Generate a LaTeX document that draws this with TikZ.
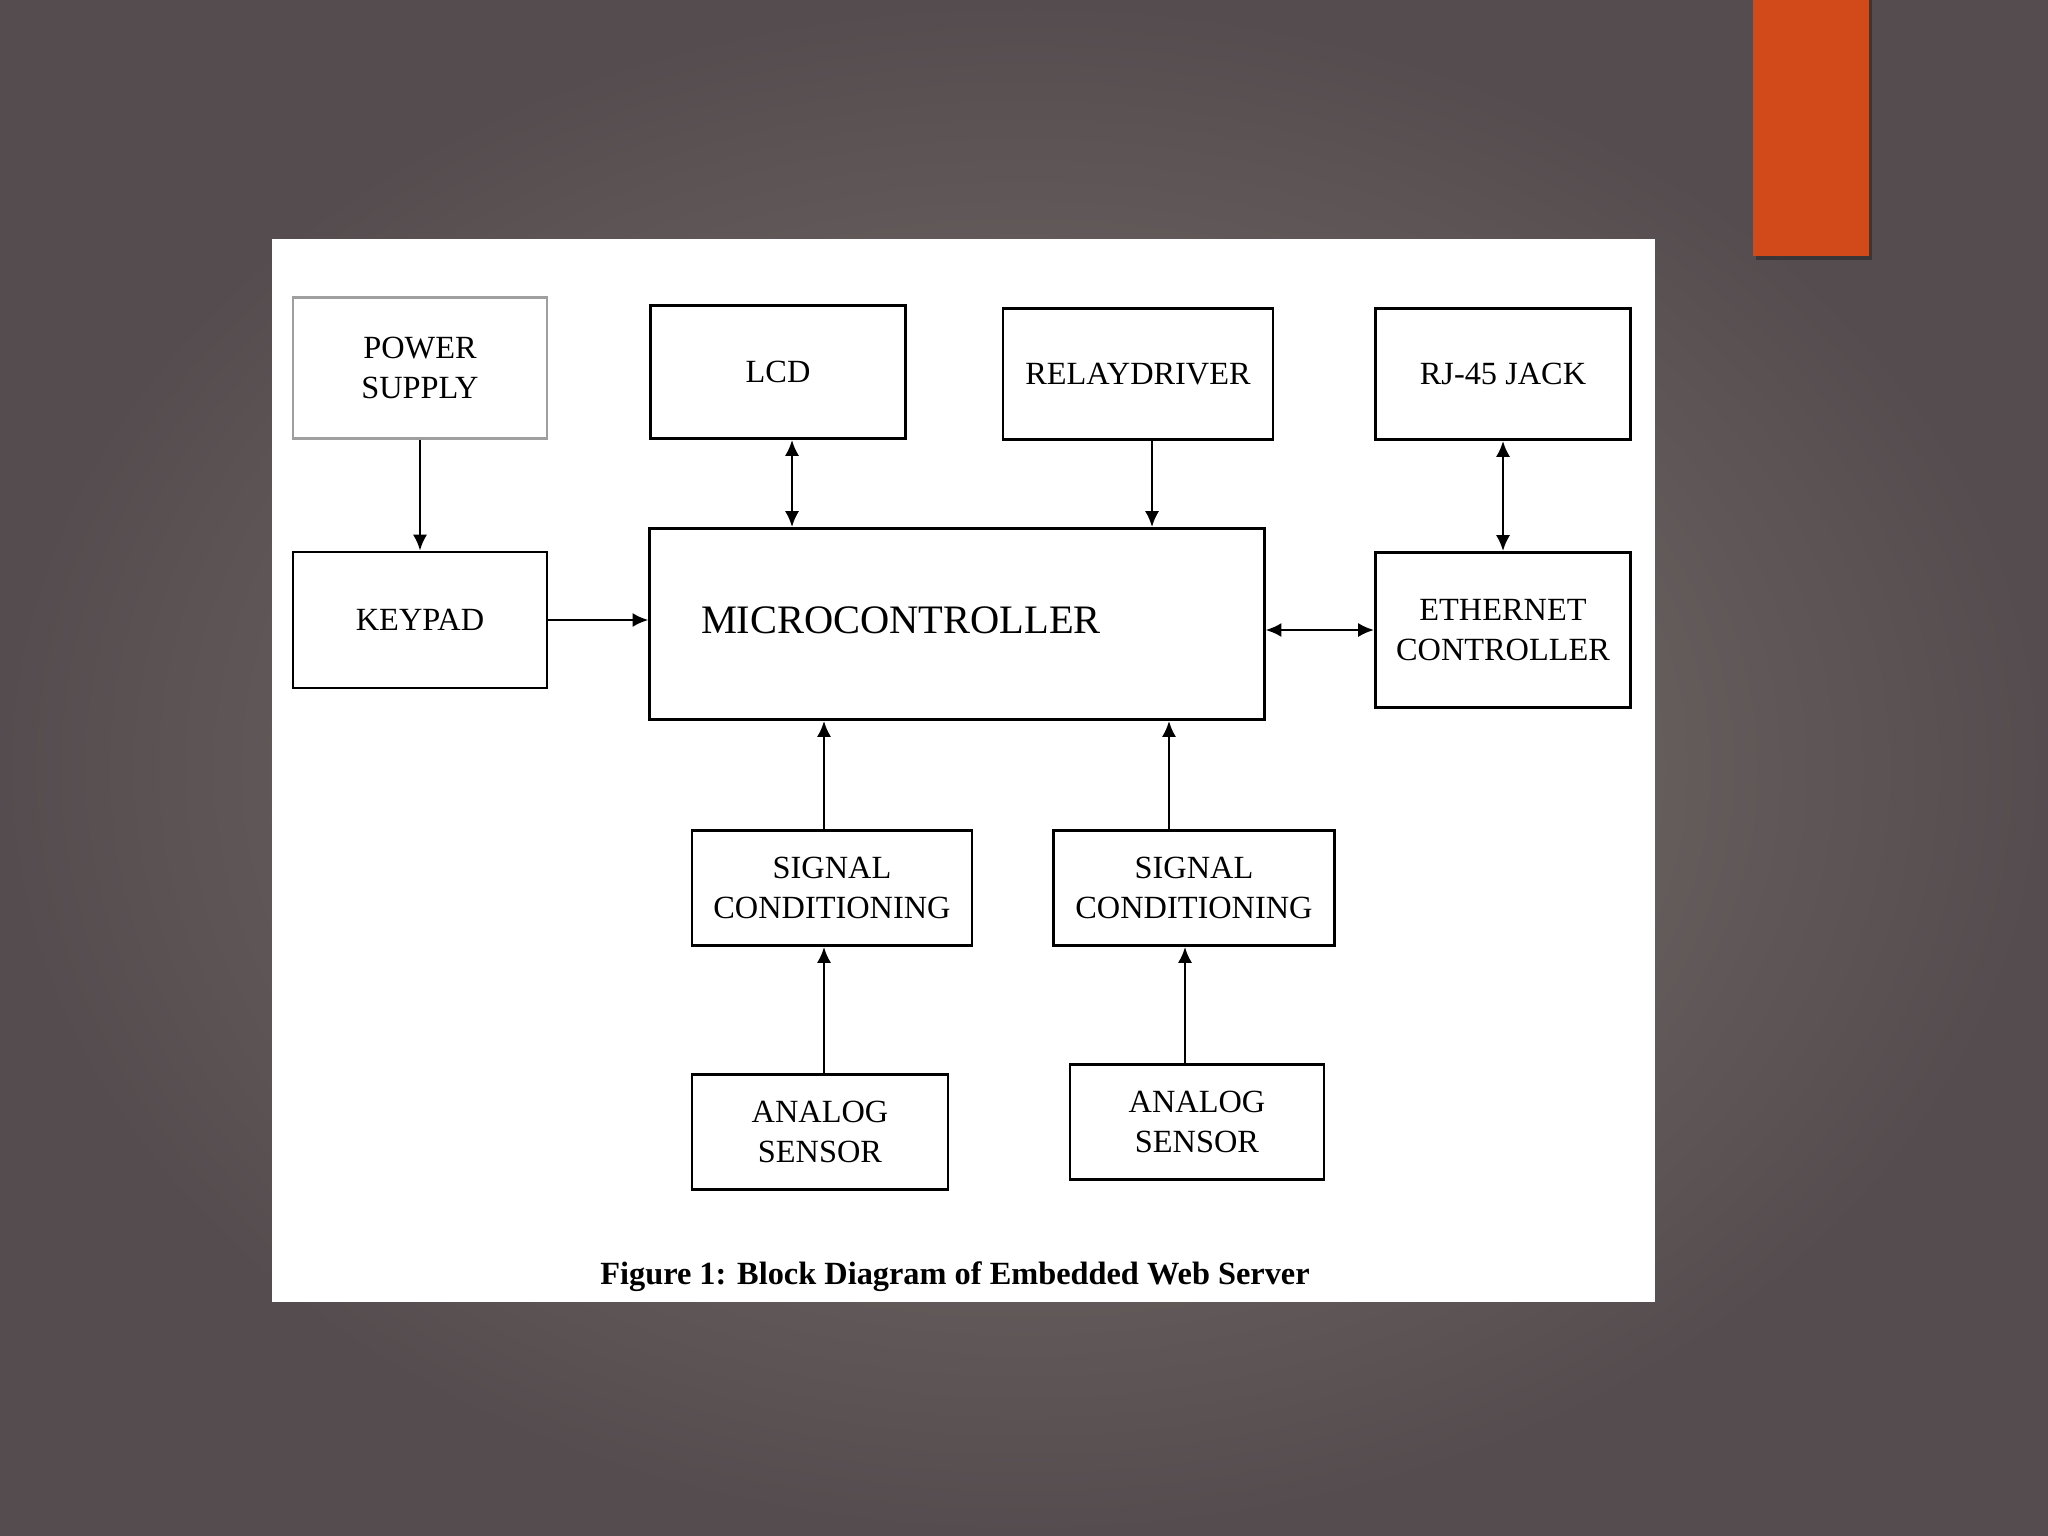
\documentclass[tikz,border=0pt]{standalone}
\usepackage{fontspec}
\setmainfont{Liberation Serif}
\usetikzlibrary{arrows.meta,positioning}
\definecolor{bgdark}{RGB}{84,76,78}
\definecolor{bglight}{RGB}{128,118,114}
\definecolor{tabred}{RGB}{210,73,26}

\begin{document}
\begin{tikzpicture}[x=0.01cm,y=-0.01cm,
  blk/.style={draw,line width=0.8pt,inner sep=0pt,align=center,
    font=\fontsize{9.2}{11.4}\selectfont},
  arr/.style={line width=0.7pt,-{Latex[length=4.5pt,width=4pt]}},
  darr/.style={line width=0.7pt,{Latex[length=4.5pt,width=4pt]}-{Latex[length=4.5pt,width=4pt]}}]
\useasboundingbox (0,0) rectangle (2048,1536);
% Slide background
\shade[inner color=bglight,outer color=bgdark] (0,0) rectangle (2048,1536);
\fill[black,opacity=0.3] (1756,0) rectangle (1872,260);
\fill[tabred] (1753,0) rectangle (1869,256);
\fill[white] (272,239) rectangle (1655,1302);

% Blocks
\node[blk,draw=gray!75,minimum width=2.54cm,minimum height=1.41cm] (psu) at (420,368) {POWER\\SUPPLY};
\node[blk,minimum width=2.55cm,minimum height=1.33cm] (lcd) at (778,372) {LCD};
\node[blk,minimum width=2.70cm,minimum height=1.31cm] (relay) at (1138,374) {RELAYDRIVER};
\node[blk,minimum width=2.55cm,minimum height=1.31cm] (rj) at (1503,374) {RJ-45 JACK};
\node[blk,minimum width=2.54cm,minimum height=1.36cm] (kp) at (420,620) {KEYPAD};
\node[blk,minimum width=6.14cm,minimum height=1.91cm] (mcu) at (957,624) {};
\node[font=\fontsize{11.5}{13}\selectfont] (mcutxt) at (901,620) {MICROCONTROLLER};
\node[blk,minimum width=2.55cm,minimum height=1.55cm] (eth) at (1503,630) {ETHERNET\\CONTROLLER};
\node[blk,minimum width=2.80cm,minimum height=1.15cm] (sc1) at (832,888) {SIGNAL\\CONDITIONING};
\node[blk,minimum width=2.81cm,minimum height=1.15cm] (sc2) at (1194,888) {SIGNAL\\CONDITIONING};
\node[blk,minimum width=2.56cm,minimum height=1.15cm] (as1) at (820,1132) {ANALOG\\SENSOR};
\node[blk,minimum width=2.54cm,minimum height=1.15cm] (as2) at (1197,1122) {ANALOG\\SENSOR};

% Connectors
\coordinate (lcdx) at ([xshift=0.14cm]lcd.south);
\coordinate (relx) at ([xshift=0.14cm]relay.south);
\coordinate (sc1x) at ([xshift=-0.08cm]sc1.north);
\coordinate (sc2x) at ([xshift=-0.25cm]sc2.north);
\coordinate (as1x) at ([xshift=0.04cm]as1.north);
\coordinate (as2x) at ([xshift=-0.12cm]as2.north);
\draw[arr] (psu) -- (kp);
\draw[darr] (lcdx) -- (lcdx |- mcu.north);
\draw[arr] (relx) -- (relx |- mcu.north);
\draw[darr] (rj) -- (eth);
\draw[arr] (kp.east) -- (kp.east -| mcu.west);
\draw[darr] (eth.west -| mcu.east) -- (eth.west);
\draw[arr] (sc1x) -- (sc1x |- mcu.south);
\draw[arr] (sc2x) -- (sc2x |- mcu.south);
\draw[arr] (as1x) -- (as1x |- sc1.south);
\draw[arr] (as2x) -- (as2x |- sc2.south);

% Caption
\node[font=\bfseries\fontsize{9.2}{11}\selectfont] (cap) at (955,1277) {Figure 1: Block Diagram of Embedded Web Server};
\end{tikzpicture}
\end{document}
